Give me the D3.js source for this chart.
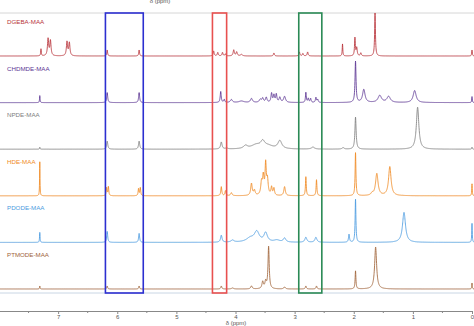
<!DOCTYPE html>
<html><head><meta charset="utf-8">
<script src="https://cdn.jsdelivr.net/npm/d3@7"></script>
<style>body{margin:0;background:#fff}svg{display:block}</style>
</head><body>
<script>
const samples = ["DGEBA-MAA","CHDMDE-MAA","NPDE-MAA","HDE-MAA","PDODE-MAA","PTMODE-MAA"]
const colors = ["#b8333a","#5c3594","#808080","#f08a24","#4a9be0","#a0643a"]
// peaks: [shift (ppm), intensity, half width (ppm)]
const dgebaPeaks = [[7.29,7,0.006],[7.17,17,0.012],[7.13,15,0.012],[6.85,14,0.012],[6.81,13,0.012],
  [6.17,6,0.008],[5.63,6,0.008],[4.37,5,0.01],[4.30,3.5,0.01],[4.22,3.5,0.01],[4.17,2,0.01],
  [4.03,6,0.012],[3.98,4,0.012],[3.90,1.5,0.02],[3.35,3,0.01],[2.92,4,0.01],[2.86,2.5,0.01],[2.78,4,0.01],
  [2.19,12,0.006],[1.98,18,0.008],[1.95,8,0.01],[1.88,3,0.01],[1.64,43,0.008],[0,6,0.006]]
const chdmdePeaks = [[7.31,7,0.005],[6.17,10,0.01],[5.63,10,0.01],[4.25,11,0.01],[4.19,3,0.01],[4.07,3,0.02],
  [3.90,1.5,0.05],[3.73,4,0.02],[3.58,3,0.02],[3.54,4,0.015],[3.48,5,0.015],[3.39,9,0.012],[3.35,7,0.012],
  [3.31,8,0.012],[3.25,5,0.015],[3.17,6,0.02],[2.81,10,0.008],[2.77,4,0.01],[2.73,4,0.01],[2.64,5,0.01],
  [2.61,3,0.01],[1.97,41,0.01],[1.83,13,0.025],[1.56,7,0.035],[1.41,6,0.035],[0.97,12,0.03],[0,6,0.005]]
const npdePeaks = [[7.31,2,0.005],[6.17,8,0.012],[5.63,8,0.012],[4.24,7,0.015],[4.15,1,0.02],
  [3.83,3,0.04],[3.65,4,0.1],[3.54,6,0.04],[3.45,3,0.1],[3.25,8,0.04],[2.69,2,0.03],[2.18,1.5,0.02],
  [1.97,32,0.012],[0.92,42,0.025],[0,2,0.006]]
const hdePeaks = [[7.31,34,0.004],[6.18,8,0.008],[6.15,9,0.008],[5.64,7,0.008],[5.61,8,0.008],
  [4.24,9,0.01],[4.17,5,0.01],[4.07,3,0.015],[3.73,12,0.015],[3.68,5,0.015],[3.56,12,0.015],[3.53,18,0.015],
  [3.49,30,0.012],[3.46,15,0.015],[3.39,8,0.012],[3.35,7,0.012],[3.17,9,0.015],[2.81,19,0.008],[2.63,16,0.008],
  [1.97,43,0.008],[1.69,2,0.02],[1.61,22,0.025],[1.39,29,0.025],[0,12,0.005]]
const pdodePeaks = [[7.31,10,0.005],[6.17,11,0.01],[5.63,9,0.01],[4.24,7,0.015],[4.05,2,0.03],
  [3.75,4,0.08],[3.64,10,0.05],[3.49,9,0.035],[3.30,2,0.06],[3.17,4,0.025],[2.81,5,0.02],[2.64,5,0.02],
  [2.08,8,0.01],[1.97,43,0.008],[1.15,30,0.03],[0,19,0.005]]
const ptmodePeaks = [[7.31,3,0.005],[6.17,3,0.008],[5.63,3,0.008],[4.24,3,0.01],[4.05,1,0.02],
  [3.73,3,0.015],[3.54,7,0.015],[3.49,7,0.015],[3.44,42,0.012],[3.17,2,0.015],[2.81,3,0.01],[2.63,3,0.01],
  [1.97,18,0.008],[1.63,42,0.02],[0,6,0.005]]
const peakSets = [dgebaPeaks, chdmdePeaks, npdePeaks, hdePeaks, pdodePeaks, ptmodePeaks]
const ticks = [7,6,5,4,3,2,1,0]
const minorTicks = [7.5,6.5,5.5,4.5,3.5,2.5,1.5,0.5]
const boxes = [[6.2,5.56],[4.39,4.15],[2.93,2.54]]
const boxColors = ["#2c2fd0","#e8504f","#2b8a55"]

let w = 474, h = 326
let svg = d3.select("body").append("svg").attr("width", w).attr("height", h)
    .style("font-family", "Liberation Sans, Arial, sans-serif")

let xScale = d3.scaleLinear().domain([8, 0]).range([-1, 472])
let rowScale = d3.scalePoint().domain(samples).range([56, 289])
let iScale = d3.scaleLinear().domain([0, 43]).range([0, 43])

let shifts = d3.range(8.1, -0.1, -0.002)
let spectrum = peaks => shifts.map(s => [s, d3.sum(peaks, p => p[1]*p[2]*p[2]/((s-p[0])*(s-p[0])+p[2]*p[2]))])

// frame lines
svg.append("line").attr("x1", 0).attr("x2", w).attr("y1", 13).attr("y2", 13).attr("stroke", "#d6d6d6")
svg.append("line").attr("x1", 0).attr("x2", w).attr("y1", 293).attr("y2", 293).attr("stroke", "#c9d6e4")

samples.forEach((name, i) => {
    let base = rowScale(name)
    let line = d3.line().x(d => xScale(d[0])).y(d => base - iScale(d[1]))
    svg.append("path").datum(spectrum(peakSets[i]))
        .attr("d", line).attr("fill", "none").attr("stroke", colors[i]).attr("stroke-width", 0.85)
    svg.append("text").attr("x", 7).attr("y", base - 32).attr("font-size", 6.2)
        .attr("fill", colors[i]).text(name)
})

svg.selectAll("rect.box").data(boxes).enter().append("rect")
    .attr("x", d => xScale(d[0])).attr("y", 13)
    .attr("width", d => xScale(d[1]) - xScale(d[0])).attr("height", 280)
    .attr("fill", "none").attr("stroke", (d, i) => boxColors[i]).attr("stroke-width", 1.6)

let axis = svg.append("g").attr("transform", "translate(0,311)")
    .call(d3.axisBottom(xScale).tickValues(ticks).tickSize(3).tickPadding(1).tickFormat(d3.format("d")))
axis.selectAll(".minor").data(minorTicks).enter().append("line").attr("class", "minor")
    .attr("x1", d => xScale(d)).attr("x2", d => xScale(d)).attr("y1", 0).attr("y2", 2).attr("stroke", "#888")
axis.select(".domain").attr("stroke", "#888")
axis.selectAll(".tick line").attr("stroke", "#888")
axis.selectAll("text").attr("font-size", 6).attr("fill", "#555").style("font-family", "Liberation Sans, Arial, sans-serif")

svg.append("text").attr("x", 236).attr("y", 325).attr("text-anchor", "middle")
    .attr("font-size", 6).attr("fill", "#555").text("δ (ppm)")
// axis title of the panel above, cut off at the top edge as in the reference
svg.append("text").attr("x", 160).attr("y", 2.5).attr("text-anchor", "middle")
    .attr("font-size", 6).attr("fill", "#555").text("δ (ppm)")
</script>
</body></html>
